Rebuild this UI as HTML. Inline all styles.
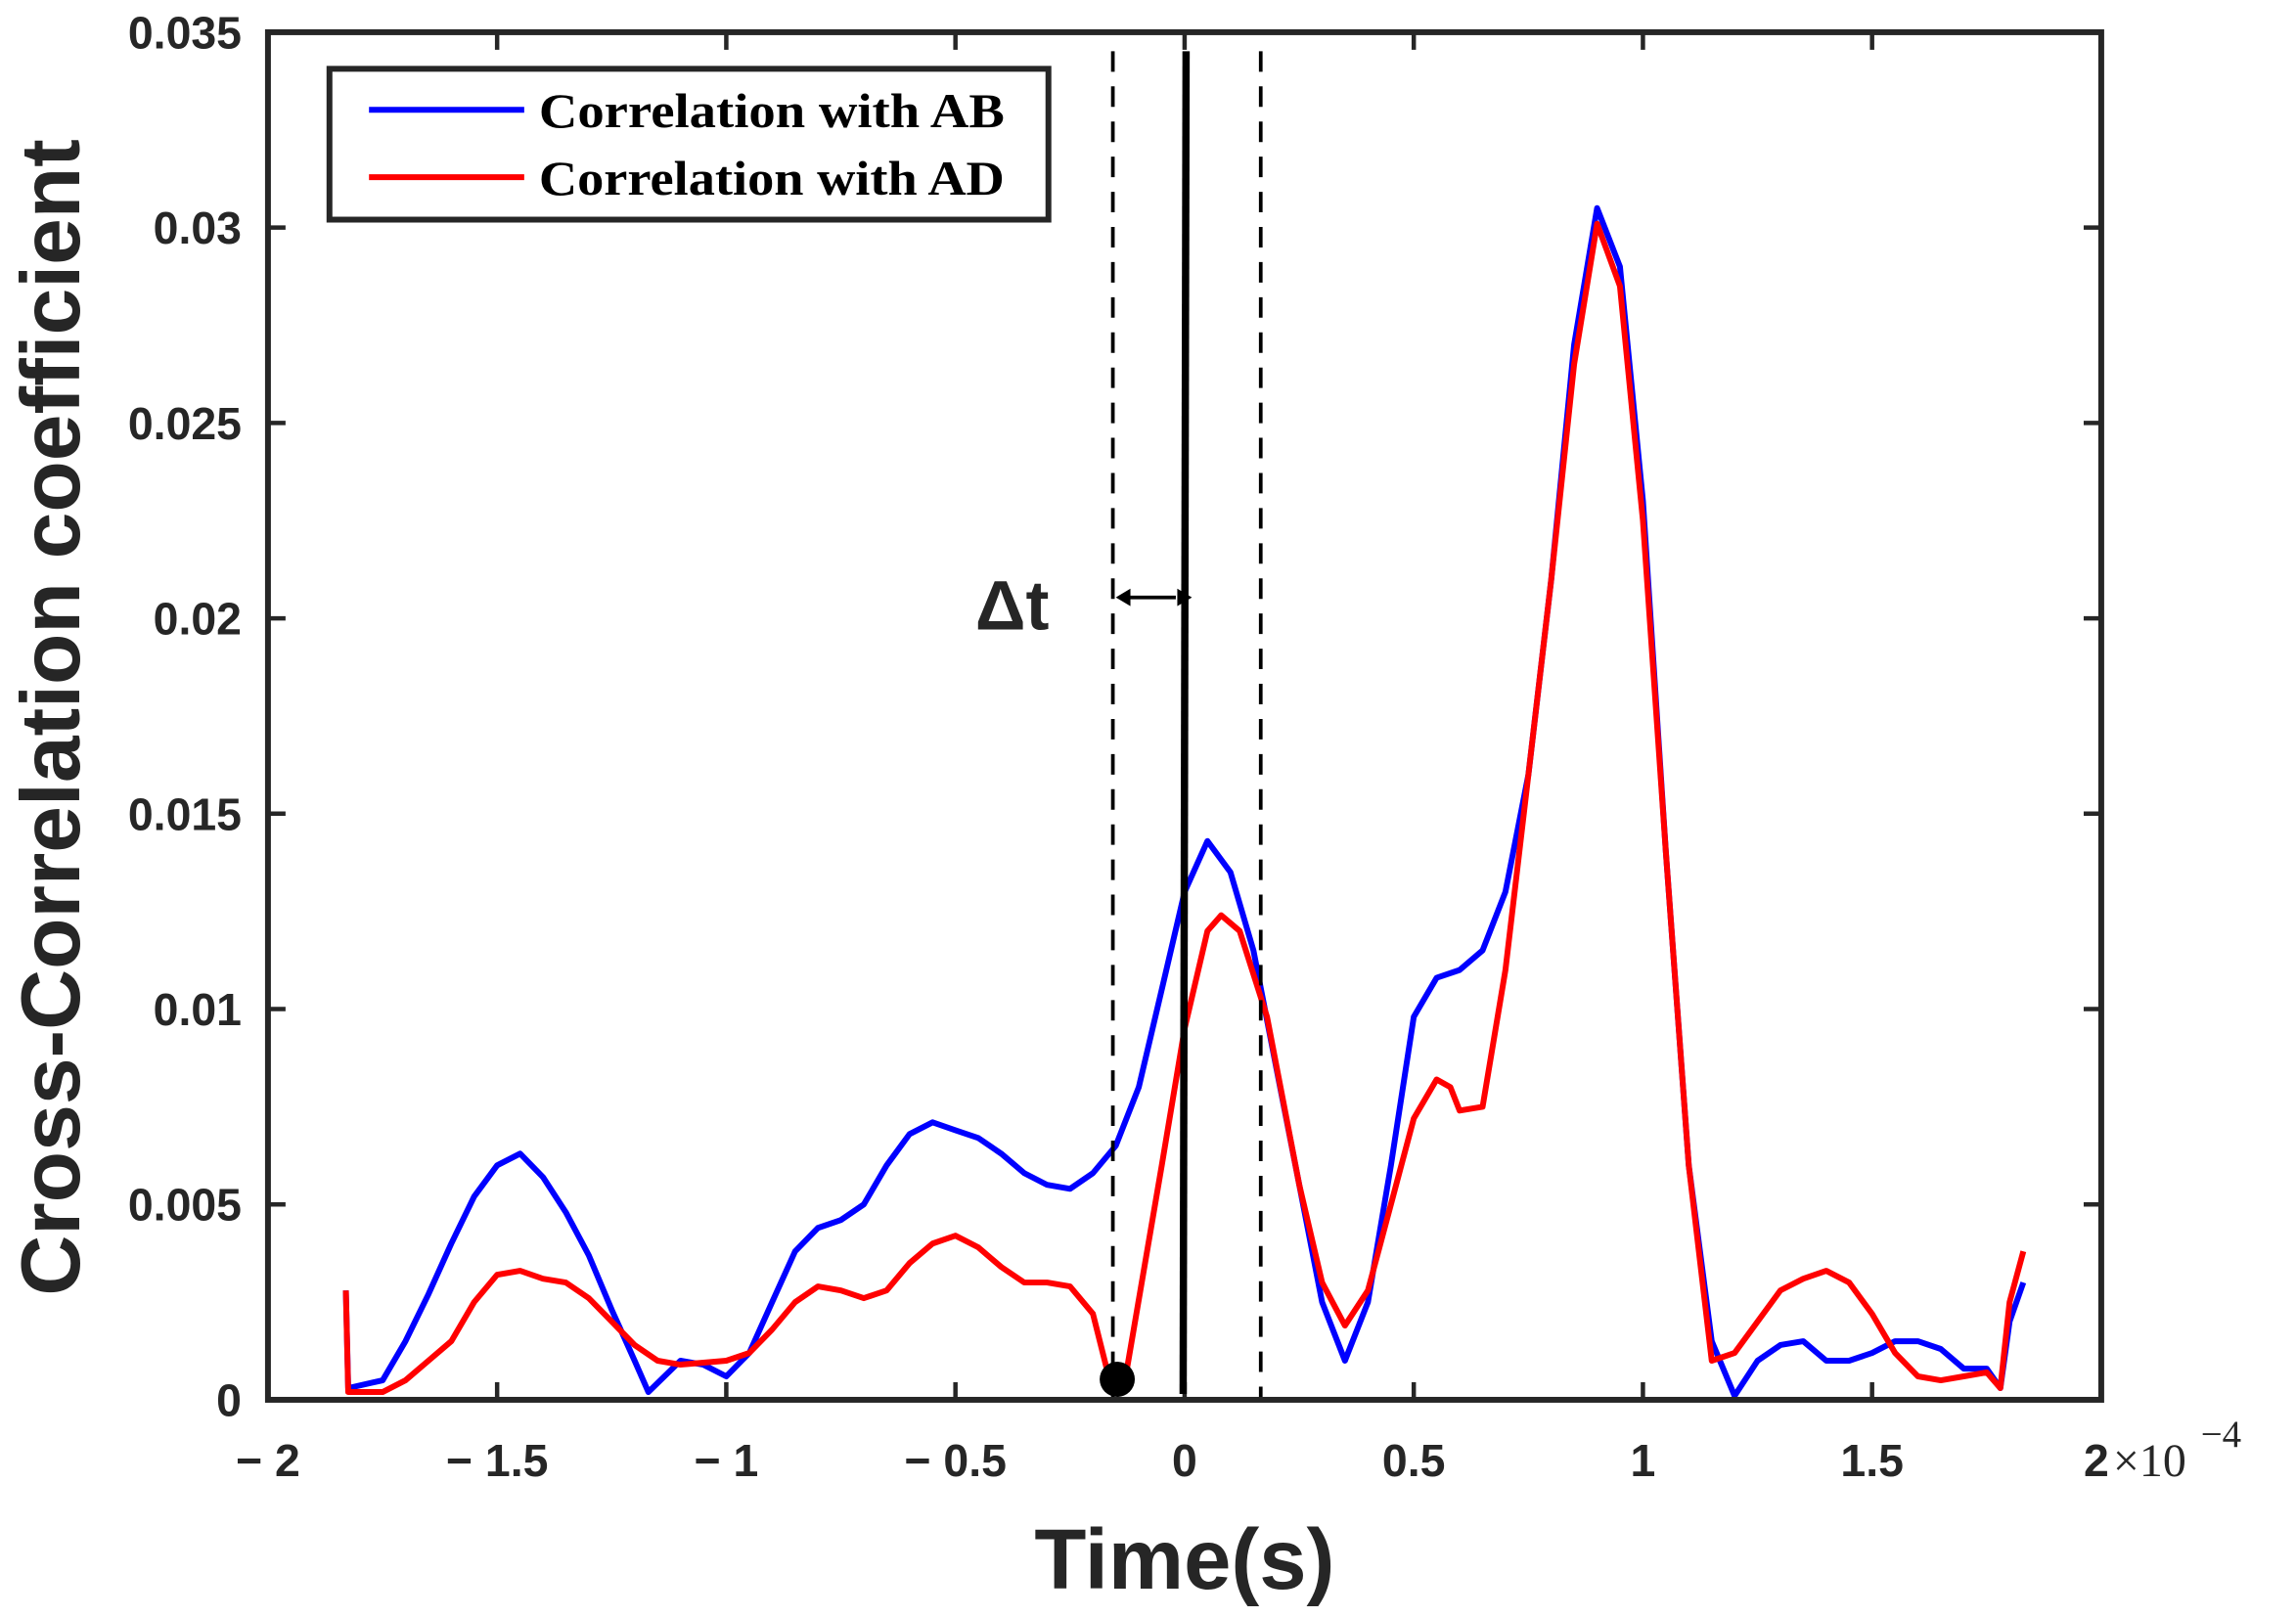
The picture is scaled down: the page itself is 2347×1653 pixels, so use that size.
<!DOCTYPE html>
<html><head><meta charset="utf-8"><style>html,body{margin:0;padding:0;background:#fff;overflow:hidden}</style></head>
<body>
<svg id="s" width="2347" height="1648" viewBox="0 0 1568 1101" preserveAspectRatio="none" xmlns="http://www.w3.org/2000/svg">
<rect width="1568" height="1101" fill="#fff"/>
<g id="ticks" stroke="#262626" stroke-width="3"></g>
<g fill="none" stroke-linejoin="round">
<path id="blue" stroke="#0000ff" stroke-width="4"/>
<path id="red" stroke="#ff0000" stroke-width="4"/>
</g>
<line x1="760" y1="35" x2="760" y2="956" stroke="#000" stroke-width="2.5" stroke-dasharray="14,10"/>
<line x1="861" y1="35" x2="861" y2="956" stroke="#000" stroke-width="2.5" stroke-dasharray="14,10"/>
<line x1="810" y1="35" x2="808" y2="952" stroke="#000" stroke-width="5"/>
<circle cx="763" cy="942" r="12" fill="#000"/>
<line x1="768" y1="408" x2="803" y2="408" stroke="#000" stroke-width="2.5"/>
<path d="M762 408 L772 402 L772 414 Z M814 408 L804 402 L804 414 Z" fill="#000"/>
<text x="666" y="430" font-family="Liberation Sans, sans-serif" font-weight="bold" font-size="48" fill="#262626">Δt</text>
<rect x="183" y="22" width="1252" height="934" fill="none" stroke="#262626" stroke-width="4"/>
<rect x="225" y="47" width="491" height="103" fill="#fff" stroke="#262626" stroke-width="4"/>
<line x1="252" y1="75" x2="358" y2="75" stroke="#0000ff" stroke-width="4"/>
<line x1="252" y1="121" x2="358" y2="121" stroke="#ff0000" stroke-width="4"/>
<g font-family="Liberation Serif, serif" font-weight="bold" font-size="33" fill="#000">
<text x="368" y="87" textLength="318" lengthAdjust="spacingAndGlyphs">Correlation with AB</text>
<text x="368" y="133" textLength="318" lengthAdjust="spacingAndGlyphs">Correlation with AD</text>
</g>
<g id="labels" font-family="Liberation Sans, sans-serif" font-weight="bold" font-size="31" fill="#262626"></g>
<text x="1423" y="1008" font-family="Liberation Sans, sans-serif" font-weight="bold" font-size="31" fill="#262626">2</text>
<text x="1443" y="1008" font-family="Liberation Serif, serif" font-size="32" fill="#262626">×10</text>
<text x="1503" y="988" font-family="Liberation Serif, serif" font-size="26" fill="#262626">−4</text>
<text x="809" y="1085" text-anchor="middle" font-family="Liberation Sans, sans-serif" font-weight="bold" font-size="58" fill="#262626">Time(s)</text>
<text transform="translate(54,490) rotate(-90)" text-anchor="middle" font-family="Liberation Sans, sans-serif" font-weight="bold" font-size="57" fill="#262626" textLength="790" lengthAdjust="spacingAndGlyphs">Cross-Correlation coefficient</text>
</svg>
<script>
const X=v=>809+v*313, Y=v=>956-v*26.686;
const B=[[-1.83,2.8],[-1.825,0.3],[-1.75,0.5],[-1.7,1.5],[-1.65,2.7],[-1.6,4],[-1.55,5.2],[-1.5,6],[-1.45,6.3],[-1.4,5.7],[-1.35,4.8],[-1.3,3.7],[-1.25,2.3],[-1.2,1],[-1.17,0.2],[-1.1,1],[-1.05,0.9],[-1.0,0.6],[-0.95,1.2],[-0.9,2.5],[-0.85,3.8],[-0.8,4.4],[-0.75,4.6],[-0.7,5],[-0.65,6],[-0.6,6.8],[-0.55,7.1],[-0.5,6.9],[-0.45,6.7],[-0.4,6.3],[-0.35,5.8],[-0.3,5.5],[-0.25,5.4],[-0.2,5.8],[-0.15,6.5],[-0.1,8],[-0.05,10.5],[0,13],[0.05,14.3],[0.1,13.5],[0.15,11.5],[0.2,8.5],[0.25,5.5],[0.3,2.5],[0.35,1],[0.4,2.5],[0.45,6],[0.5,9.8],[0.55,10.8],[0.6,11],[0.65,11.5],[0.7,13],[0.75,16],[0.8,21],[0.85,27],[0.9,30.5],[0.95,29],[1.0,23],[1.05,14],[1.1,6],[1.15,1.5],[1.2,0.1],[1.25,1],[1.3,1.4],[1.35,1.5],[1.4,1],[1.45,1],[1.5,1.2],[1.55,1.5],[1.6,1.5],[1.65,1.3],[1.7,0.8],[1.75,0.8],[1.78,0.3],[1.8,2],[1.83,3]];
const R=[[-1.83,2.8],[-1.825,0.2],[-1.75,0.2],[-1.7,0.5],[-1.65,1],[-1.6,1.5],[-1.55,2.5],[-1.5,3.2],[-1.45,3.3],[-1.4,3.1],[-1.35,3],[-1.3,2.6],[-1.25,2],[-1.2,1.4],[-1.15,1],[-1.1,0.9],[-1.0,1],[-0.95,1.2],[-0.9,1.8],[-0.85,2.5],[-0.8,2.9],[-0.75,2.8],[-0.7,2.6],[-0.65,2.8],[-0.6,3.5],[-0.55,4],[-0.5,4.2],[-0.45,3.9],[-0.4,3.4],[-0.35,3],[-0.3,3],[-0.25,2.9],[-0.2,2.2],[-0.17,0.8],[-0.15,0.2],[-0.13,0.5],[-0.05,6],[0,9.5],[0.05,12],[0.08,12.4],[0.12,12],[0.18,9.8],[0.25,5.5],[0.3,3],[0.35,1.9],[0.4,2.8],[0.45,5],[0.5,7.2],[0.55,8.2],[0.58,8],[0.6,7.4],[0.65,7.5],[0.7,11],[0.75,16],[0.8,21],[0.85,26.5],[0.9,30.1],[0.95,28.5],[1.0,22.5],[1.05,14],[1.1,6],[1.15,1],[1.2,1.2],[1.25,2],[1.3,2.8],[1.35,3.1],[1.4,3.3],[1.45,3],[1.5,2.2],[1.55,1.2],[1.6,0.6],[1.65,0.5],[1.7,0.6],[1.75,0.7],[1.78,0.3],[1.8,2.5],[1.83,3.8]];
const P=a=>'M'+a.map(p=>X(p[0]).toFixed(1)+' '+Y(p[1]).toFixed(1)).join(' L');
document.getElementById('blue').setAttribute('d',P(B));
document.getElementById('red').setAttribute('d',P(R));
let t='',l='';
const xs=[-2,-1.5,-1,-0.5,0,0.5,1,1.5,2];
xs.forEach(v=>{const x=X(v);t+=`<line x1="${x}" y1="956" x2="${x}" y2="944"/><line x1="${x}" y1="22" x2="${x}" y2="34"/>`;
 if(v!==2){const s=v<0?'− '+(-v):''+v;l+=`<text x="${x}" y="1008" text-anchor="middle">${s}</text>`;}});
[0,5,10,15,20,25,30,35].forEach(v=>{const y=Y(v);t+=`<line x1="183" y1="${y}" x2="195" y2="${y}"/><line x1="1435" y1="${y}" x2="1423" y2="${y}"/>`;
 const s=v===0?'0':(v/1000).toString();l+=`<text x="165" y="${y+11}" text-anchor="end">${s}</text>`;});
document.getElementById('ticks').innerHTML=t;document.getElementById('labels').innerHTML=l;
</script>
</body></html>
